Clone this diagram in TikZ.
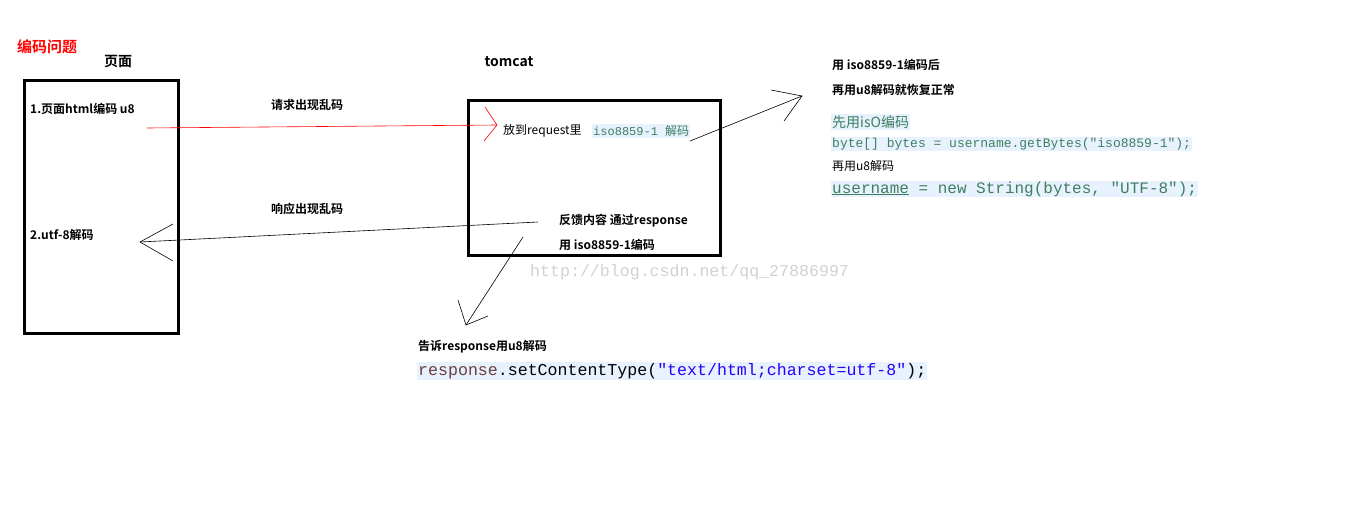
\documentclass[tikz,border=0pt]{standalone}
\usepackage{fontspec}
\setmainfont{Noto Sans CJK SC}
\newfontfamily\cjkb{Noto Sans CJK SC Bold}
\newfontfamily\mono{Liberation Mono}
\newfontfamily\monocjk{Noto Sans Mono CJK SC}
\definecolor{cgreen}{HTML}{3F7F5F}
\definecolor{cbg}{HTML}{E8F2FE}
\definecolor{cblue}{HTML}{2A00FF}
\definecolor{cbrown}{HTML}{6A3E3E}
\begin{document}
\begin{tikzpicture}[x=1pt,y=-1pt,
  lbl/.style={inner sep=0pt,anchor=west,font=\cjkb\fontsize{12}{12}\selectfont},
  box/.style={draw,line width=3pt},
  code/.style={inner sep=1pt,anchor=west,fill=cbg,text=cgreen},
  hd/.style={line width=0.6pt}]
\useasboundingbox (0,0) rectangle (1360,524);
\node[lbl,text=red,font=\cjkb\fontsize{15}{15}\selectfont] (t0) at (17,47) {编码问题};
\node[lbl,font=\cjkb\fontsize{14}{14}\selectfont,anchor=center] (t1) at (118,62) {页面};
\node[lbl,font=\cjkb\fontsize{14}{14}\selectfont,anchor=center] (t2) at (509,62) {tomcat};
\draw[box] (24,81) rectangle (178,333);
\draw[box] (468,101) rectangle (720,255);
\node[lbl] (a1) at (30,109) {1.页面html编码 u8};
\node[lbl] (a2) at (30,235) {2.utf-8解码};
\node[lbl,anchor=center] (r1) at (307,105) {请求出现乱码};
\node[lbl,anchor=center] (r2) at (307,209) {响应出现乱码};
\node[inner sep=0pt,anchor=west,font=\fontsize{12}{12}\selectfont] (b1) at (503,131) {放到request里};
\node[code,font=\mono\fontsize{12}{12}\selectfont] (b2) at (592,131) {iso8859-1 {\monocjk 解码}};
\node[lbl] (c1) at (559,221) {反馈内容 通过response};
\node[lbl] (c2) at (559,245) {用 iso8859-1编码};
\node[lbl] (d1) at (832,65) {用 iso8859-1编码后};
\node[lbl] (d2) at (832,90) {再用u8解码就恢复正常};
\node[code,font=\fontsize{14}{14}\selectfont] (d3) at (831,122) {先用isO编码};
\node[code,font=\mono\fontsize{13}{13}\selectfont] (d4) at (831,144) {byte[] bytes = username.getBytes("iso8859-1");};
\node[inner sep=0pt,anchor=west,font=\fontsize{12}{12}\selectfont] (d5) at (832,166) {再用u8解码};
\node[code,font=\mono\fontsize{16}{16}\selectfont] (d6) at (831,189) {\underline{username} = new String(bytes, "UTF-8");};
\node[lbl] (e1) at (418,347) {告诉response用u8解码};
\node[code,font=\mono\fontsize{16.6}{16.6}\selectfont,text=black] (e2) at (417,371) {\textcolor{cbrown}{response}.setContentType(\textcolor{cblue}{"text/html;charset=utf-8"});};
\node[inner sep=0pt,anchor=west,text=black!18,font=\mono\fontsize{16.6}{16.6}\selectfont] (w) at (530,272) {http://blog.csdn.net/qq\_27886997};
% red request arrow
\coordinate (p1) at (147,128); \coordinate (p2) at (497,125);
\draw[red,hd] (p1) -- (p2);
\draw[red,hd] (485,107) -- (p2) -- (484,141);
% arrow to right text
\coordinate (q1) at (690,141); \coordinate (q2) at (802,96);
\draw[hd] (q1) -- (q2);
\draw[hd] (771,90) -- (q2) -- (784,121);
% response arrow
\coordinate (s1) at (538,222); \coordinate (s2) at (140,242);
\draw[hd] (s1) -- (s2);
\draw[hd] (173,224) -- (s2) -- (173,261);
% down arrow
\coordinate (u1) at (523,237); \coordinate (u2) at (466,325);
\draw[hd] (u1) -- (u2);
\draw[hd] (458,300) -- (u2) -- (488,316);
\end{tikzpicture}
\end{document}
